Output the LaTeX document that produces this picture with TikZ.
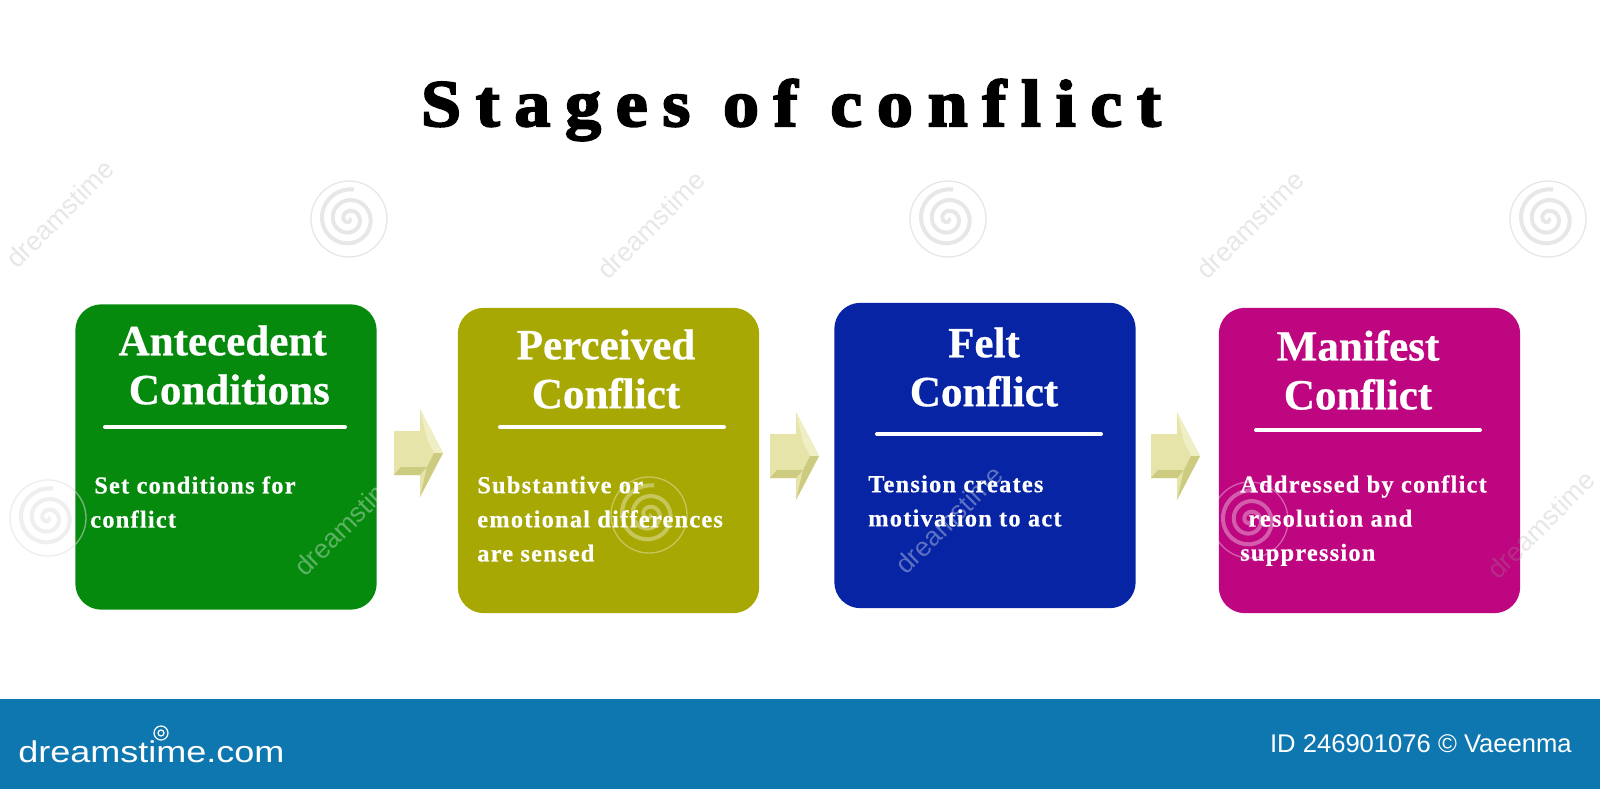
\documentclass[tikz,border=0pt]{standalone}
\usepackage{fontspec}
\setmainfont{Liberation Serif}
\setsansfont{Liberation Sans}
\newfontfamily\headfont[FakeBold=0.6]{Liberation Serif}
\newfontfamily\bodyfont[LetterSpace=5,FakeBold=0.5]{Liberation Serif}
\newfontfamily\titlefont[LetterSpace=22,FakeBold=3,FakeStretch=1.08]{Liberation Serif}
\newfontfamily\brandfont[FakeStretch=1.2]{Liberation Sans}
\usetikzlibrary{calc,positioning}

\definecolor{boxgreen}{HTML}{068A0E}
\definecolor{boxolive}{HTML}{A8A804}
\definecolor{boxblue}{HTML}{0624A4}
\definecolor{boxmagenta}{HTML}{BE0680}
\definecolor{barblue}{HTML}{0F77B0}
\definecolor{arrowfill}{HTML}{E6E4A8}
\definecolor{arrowdark}{HTML}{CDCB80}
\definecolor{arrowlight}{HTML}{EFEEC4}

\tikzset{
	stagebox/.style={fill=#1, rounded corners=19.5pt, minimum width=226pt, minimum height=229pt, inner sep=0pt},
	headtext/.style={white, font=\headfont\bfseries\fontsize{32.3}{36.7}\selectfont, align=center, inner sep=0pt},
	bodytext/.style={white, font=\bodyfont\bfseries\fontsize{18.3}{25.6}\selectfont, align=left, anchor=north west, inner sep=0pt},
	headrule/.style={white, line width=3pt, line cap=round},
	markfaint/.style={white!62!black, opacity=0.25},
	markbright/.style={white, opacity=0.35},
	pointer/.pic={
		\fill[arrowfill] (-37,-22) -- (-11,-22) -- (-11,-44) -- (12,0) -- (-11,44) -- (-11,22) -- (-37,22) -- cycle;
		\fill[arrowlight] (-11,-44) -- (12,0) -- (3,0) -- (-4,-14) -- cycle;
		\fill[arrowdark] (-11,44) -- (12,0) -- (3,0) -- (-4,14) -- cycle;
		\fill[arrowdark] (-37,22) -- (-11,22) -- (-4,14) -- (-30,14) -- cycle;
	},
	swirl/.pic={
		\draw[pic actions, line width=3pt] plot[domain=0:1000, samples=90] ({\x/1000*30*cos(\x)}, {\x/1000*30*sin(\x)});
		\draw[pic actions, line width=1pt] (0,0) circle (38);
	},
	wordmark/.pic={
		\node[pic actions, rotate=45, font=\fontsize{20}{22}\sffamily, inner sep=0pt] {dreamstime};
	}
}

\begin{document}
\begin{tikzpicture}[x=0.75pt,y=-0.75pt]
	\useasboundingbox (0,0) rectangle (1600,789);
	% Footer bar
	\fill[barblue] (0,699) rectangle (1600,789);
	\node[white, font=\brandfont\fontsize{22.5}{26}\selectfont, anchor=base west, inner sep=0pt] (brand) at (18,762) {dreamstime.com};
	\draw[white, line width=0.9pt] (161,733) circle (7) (161,733) circle (3);
	\node[white, font=\fontsize{19.2}{22}\sffamily, anchor=east, inner sep=0pt] (stockid) at (1572,744) {ID 246901076 © Vaeenma};
	% Title
	\node[font=\titlefont\bfseries\fontsize{50}{56}\selectfont, inner sep=0pt] (title) at (791,110) {Stages of conflict};
	% Boxes
	\node[stagebox=boxgreen] (antecedent) at (226,457) {};
	\node[stagebox=boxolive] (perceived) at (608.5,460.5) {};
	\node[stagebox=boxblue] (felt) at (985,455.5) {};
	\node[stagebox=boxmagenta] (manifest) at (1369.5,460.5) {};
	% Watermark
	\foreach \mx/\my in {349/219, 948/219, 1548/219, 48/518}
		\pic[markfaint] at (\mx,\my) {swirl};
	\foreach \mx/\my in {48/518, 649/515, 1250/520}
		\pic[markbright] at (\mx,\my) {swirl};
	\foreach \mx/\my in {60/214, 651/225, 1250/225, 1541/525}
		\pic[markfaint] at (\mx,\my) {wordmark};
	\foreach \mx/\my in {348/522, 949/520}
		\pic[markbright] at (\mx,\my) {wordmark};
	% Headings
	\node[headtext] (antecedenthead) at (226,365) {\hspace*{-5pt}Antecedent\\\hspace*{5pt}Conditions};
	\node[headtext] (perceivedhead) at (606,369) {Perceived\\Conflict};
	\node[headtext] (felthead) at (984,367) {Felt\\Conflict};
	\node[headtext] (manifesthead) at (1358,370) {Manifest\\Conflict};
	% Rules under headings
	\draw[headrule] (105,427) -- (345,427);
	\draw[headrule] (500,427) -- (724,427);
	\draw[headrule] (877,434) -- (1101,434);
	\draw[headrule] (1256,430) -- (1480,430);
	% Body text
	\node[bodytext] (antecedentbody) at (90,476) {\hspace*{3pt}Set conditions for\\conflict};
	\node[bodytext] (perceivedbody) at (477,476) {Substantive or\\emotional differences\\are sensed};
	\node[bodytext] (feltbody) at (868,475) {Tension creates\\motivation to act};
	\node[bodytext] (manifestbody) at (1240,475) {Addressed by conflict\\\hspace*{6pt}resolution and\\suppression};
	% Arrows
	\pic at (431,453) {pointer};
	\pic at (807,456) {pointer};
	\pic at (1188,456) {pointer};
\end{tikzpicture}
\end{document}
